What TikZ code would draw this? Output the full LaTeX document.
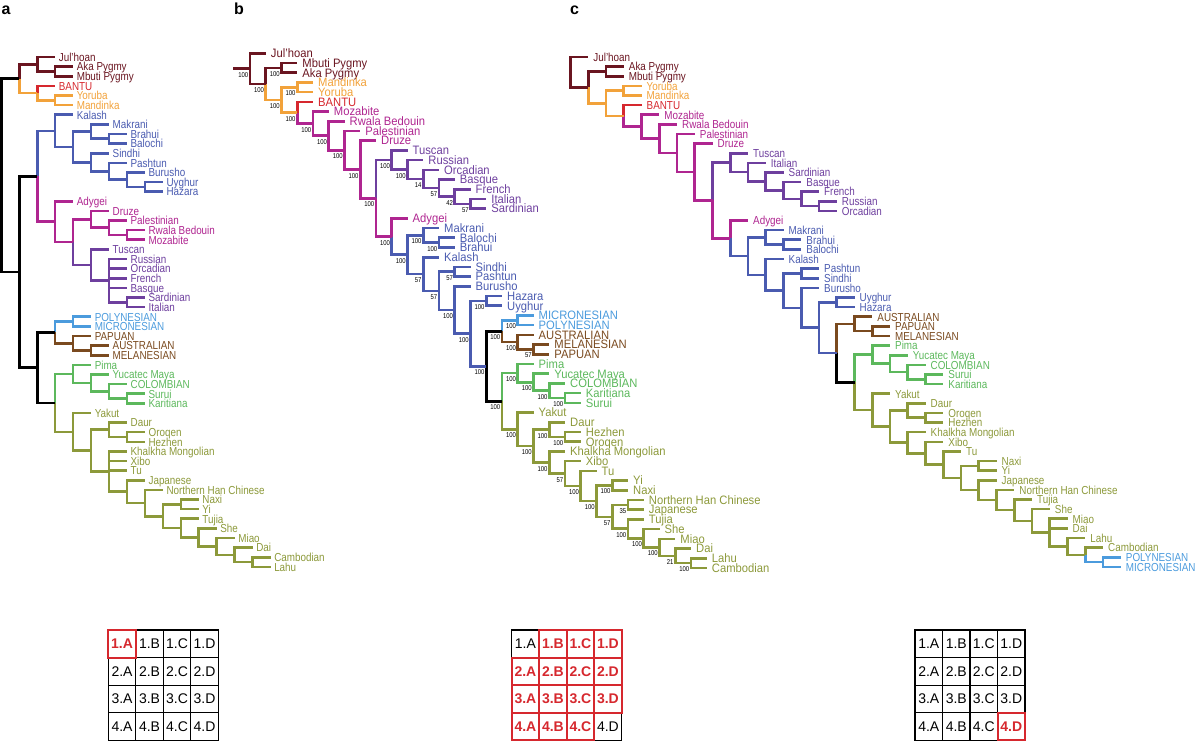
\documentclass[tikz,border=0pt]{standalone}
\usepackage{fontspec}
\setmainfont{Liberation Sans}
\newfontfamily\nfA[FakeStretch=0.85]{Liberation Sans}
\newfontfamily\nfB[FakeStretch=0.92]{Liberation Sans}
\newfontfamily\nfS[FakeStretch=0.85]{Liberation Sans}
\newcommand\fA{\nfA\fontsize{11.6}{12}\selectfont}
\newcommand\fB{\nfB\fontsize{12.2}{13}\selectfont}
\newcommand\fS{\nfS\fontsize{7}{7}\selectfont}
\definecolor{cDR}{HTML}{6A1520}
\definecolor{cRd}{HTML}{D6282E}
\definecolor{cOr}{HTML}{F2A23A}
\definecolor{cMg}{HTML}{AF2590}
\definecolor{cPu}{HTML}{6E3F9E}
\definecolor{cBl}{HTML}{4A5BB0}
\definecolor{cLb}{HTML}{4B9BDD}
\definecolor{cBr}{HTML}{7A4A1F}
\definecolor{cGr}{HTML}{5CB85C}
\definecolor{cOl}{HTML}{8C993A}
\tikzset{
 br/.style={line width=2.6pt},
 lab/.style={anchor=base west, inner sep=0pt, xshift=\LS, yshift=-4.3pt, font=\LF},
 bs/.style={anchor=north east, inner sep=0pt, xshift=-1.5pt, yshift=-3.5pt, font=\fS},
 cell/.style={draw=black, line width=1.1pt, minimum width=27.5pt, minimum height=27.6pt, inner sep=0pt, font=\fontsize{14}{14}\selectfont},
 rcell/.style={cell, draw=cRd, line width=2pt, text=cRd, font=\bfseries\fontsize{14}{14}\selectfont},
 panel/.style={anchor=base west, inner sep=0pt, font=\bfseries\fontsize{16}{16}\selectfont}
}
\newcommand\Yv[1]{\csname Y@#1\endcsname}
\newcommand\Lf[5]{%
  \pgfmathsetmacro\tY{\Yo+(#3-1)*\Ys}%
  \pgfmathsetmacro\tX{\Xo+#2*\Xs}%
  \expandafter\xdef\csname Y@#1\endcsname{\tY}%
  \coordinate (#1) at (\tX,\tY);%
  \node[lab,text=#4] (#1-t) at (#1) {#5};}
\newcommand\In[6]{%
  \edef\yA{\Yv{#3}}\edef\yB{\Yv{#5}}%
  \pgfmathsetmacro\tY{(\yA+\yB)/2}%
  \pgfmathsetmacro\tX{\Xo+#2*\Xs}%
  \expandafter\xdef\csname Y@#1\endcsname{\tY}%
  \coordinate (#1) at (\tX,\tY);%
  \draw[br,#4] (#1) |- (#3);%
  \draw[br,#6] (#1) |- (#5);}
\newcommand\Ip[4]{%
  \edef\yA{\Yv{#3}}\edef\yB{\Yv{#4}}%
  \pgfmathsetmacro\tY{(\yA+\yB)/2}%
  \pgfmathsetmacro\tX{\Xo+#2*\Xs}%
  \expandafter\xdef\csname Y@#1\endcsname{\tY}%
  \coordinate (#1) at (\tX,\tY);}
\newcommand\Bs[2]{\node[bs] (#1-b) at (#1) {#2};}
\newcommand\Red[1]{\expandafter\gdef\csname R@#1\endcsname{}}
\newcommand\Grid[3]{%
  \foreach \r in {1,...,4}{\foreach \cc/\ci in {A/1,B/2,C/3,D/4}{%
    \ifcsname R@#1\r\cc\endcsname\else
    \node[cell] (#1\r\cc) at ({#2+(\ci-0.5)*27.5},{#3+(\r-0.5)*27.6}) {\r.\cc};\fi}}%
  \foreach \r in {1,...,4}{\foreach \cc/\ci in {A/1,B/2,C/3,D/4}{%
    \ifcsname R@#1\r\cc\endcsname
    \node[rcell] (#1\r\cc) at ({#2+(\ci-0.5)*27.5},{#3+(\r-0.5)*27.6}) {\r.\cc};\fi}}}
\begin{document}
\begin{tikzpicture}[x=1pt,y=-1pt]
\useasboundingbox (0,0) rectangle (1200,742);
\node[panel] (pa) at (1.5,14) {a};
\node[panel] (pb) at (234,14) {b};
\node[panel] (pc) at (570,14) {c};
% ---------------- tree a
\def\Xo{1.3}\def\Xs{17.95}\def\Yo{57}\def\Ys{9.62}\def\LS{3.5pt}\let\LF\fA
\Lf{a1}{3}{1}{cDR}{Jul’hoan}
\Lf{a2}{4}{2}{cDR}{Aka Pygmy}
\Lf{a3}{4}{3}{cDR}{Mbuti Pygmy}
\Lf{a4}{3}{4}{cRd}{BANTU}
\Lf{a5}{4}{5}{cOr}{Yoruba}
\Lf{a6}{4}{6}{cOr}{Mandinka}
\In{aPy}{3}{a2}{cDR}{a3}{cDR}
\In{aDR}{2}{a1}{cDR}{aPy}{cDR}
\In{aYM}{3}{a5}{cOr}{a6}{cOr}
\In{aOR}{2}{a4}{cRd}{aYM}{cOr}
\In{aAf}{1}{aDR}{cDR}{aOR}{cOr}
\Lf{a7}{4}{7}{cBl}{Kalash}
\Lf{a8}{6}{8}{cBl}{Makrani}
\Lf{a9}{7}{9}{cBl}{Brahui}
\Lf{a10}{7}{10}{cBl}{Balochi}
\Lf{a11}{6}{11}{cBl}{Sindhi}
\Lf{a12}{7}{12}{cBl}{Pashtun}
\Lf{a13}{8}{13}{cBl}{Burusho}
\Lf{a14}{9}{14}{cBl}{Uyghur}
\Lf{a15}{9}{15}{cBl}{Hazara}
\In{aBB}{6}{a9}{cBl}{a10}{cBl}
\In{aM}{5}{a8}{cBl}{aBB}{cBl}
\In{aUH}{8}{a14}{cBl}{a15}{cBl}
\In{aS3}{7}{a13}{cBl}{aUH}{cBl}
\In{aS2}{6}{a12}{cBl}{aS3}{cBl}
\In{aS}{5}{a11}{cBl}{aS2}{cBl}
\In{aX}{4}{aM}{cBl}{aS}{cBl}
\In{aCSA}{3}{a7}{cBl}{aX}{cBl}
\Lf{a16}{4}{16}{cMg}{Adygei}
\Lf{a17}{6}{17}{cMg}{Druze}
\Lf{a18}{7}{18}{cMg}{Palestinian}
\Lf{a19}{8}{19}{cMg}{Rwala Bedouin}
\Lf{a20}{8}{20}{cMg}{Mozabite}
\Lf{a21}{6}{21}{cPu}{Tuscan}
\Lf{a22}{7}{22}{cPu}{Russian}
\Lf{a23}{7}{23}{cPu}{Orcadian}
\Lf{a24}{7}{24}{cPu}{French}
\Lf{a25}{7}{25}{cPu}{Basque}
\Lf{a26}{8}{26}{cPu}{Sardinian}
\Lf{a27}{8}{27}{cPu}{Italian}
\In{aRM}{7}{a19}{cMg}{a20}{cMg}
\In{aP}{6}{a18}{cMg}{aRM}{cMg}
\In{aD}{5}{a17}{cMg}{aP}{cMg}
\In{aSI}{7}{a26}{cPu}{a27}{cPu}
\Ip{aPol}{6}{a22}{aSI}
\foreach \cc in {a22,a23,a24,a25,aSI} \draw[br,cPu] (aPol) |- (\cc);
\In{aEu}{5}{a21}{cPu}{aPol}{cPu}
\In{aME2}{4}{aD}{cMg}{aEu}{cPu}
\In{aME}{3}{a16}{cMg}{aME2}{cMg}
\In{aW}{2}{aCSA}{cBl}{aME}{cMg}
\Lf{a28}{5}{28}{cLb}{POLYNESIAN}
\Lf{a29}{5}{29}{cLb}{MICRONESIAN}
\Lf{a30}{5}{30}{cBr}{PAPUAN}
\Lf{a31}{6}{31}{cBr}{AUSTRALIAN}
\Lf{a32}{6}{32}{cBr}{MELANESIAN}
\In{aPM}{4}{a28}{cLb}{a29}{cLb}
\In{aAM}{5}{a31}{cBr}{a32}{cBr}
\In{aPap}{4}{a30}{cBr}{aAM}{cBr}
\In{aOc}{3}{aPM}{cLb}{aPap}{cBr}
\Lf{a33}{5}{33}{cGr}{Pima}
\Lf{a34}{6}{34}{cGr}{Yucatec Maya}
\Lf{a35}{7}{35}{cGr}{COLOMBIAN}
\Lf{a36}{8}{36}{cGr}{Surui}
\Lf{a37}{8}{37}{cGr}{Karitiana}
\In{aKS}{7}{a36}{cGr}{a37}{cGr}
\In{aA3}{6}{a35}{cGr}{aKS}{cGr}
\In{aA2}{5}{a34}{cGr}{aA3}{cGr}
\In{aAm}{4}{a33}{cGr}{aA2}{cGr}
\Lf{a38}{5}{38}{cOl}{Yakut}
\Lf{a39}{7}{39}{cOl}{Daur}
\Lf{a40}{8}{40}{cOl}{Oroqen}
\Lf{a41}{8}{41}{cOl}{Hezhen}
\Lf{a42}{7}{42}{cOl}{Khalkha Mongolian}
\Lf{a43}{7}{43}{cOl}{Xibo}
\Lf{a44}{7}{44}{cOl}{Tu}
\Lf{a45}{8}{45}{cOl}{Japanese}
\Lf{a46}{9}{46}{cOl}{Northern Han Chinese}
\Lf{a47}{11}{47}{cOl}{Naxi}
\Lf{a48}{11}{48}{cOl}{Yi}
\Lf{a49}{11}{49}{cOl}{Tujia}
\Lf{a50}{12}{50}{cOl}{She}
\Lf{a51}{13}{51}{cOl}{Miao}
\Lf{a52}{14}{52}{cOl}{Dai}
\Lf{a53}{15}{53}{cOl}{Cambodian}
\Lf{a54}{15}{54}{cOl}{Lahu}
\In{aOH}{7}{a40}{cOl}{a41}{cOl}
\In{aN2}{6}{a39}{cOl}{aOH}{cOl}
\In{aN12}{14}{a53}{cOl}{a54}{cOl}
\In{aN11}{13}{a52}{cOl}{aN12}{cOl}
\In{aN10}{12}{a51}{cOl}{aN11}{cOl}
\In{aN9}{11}{a50}{cOl}{aN10}{cOl}
\In{aN8}{10}{a49}{cOl}{aN9}{cOl}
\In{aN7}{10}{a47}{cOl}{a48}{cOl}
\In{aN6}{9}{aN7}{cOl}{aN8}{cOl}
\In{aN5}{8}{a46}{cOl}{aN6}{cOl}
\In{aN4}{7}{a45}{cOl}{aN5}{cOl}
\Ip{aN3}{6}{a42}{aN4}
\foreach \cc in {a42,a43,a44,aN4} \draw[br,cOl] (aN3) |- (\cc);
\In{aN1}{5}{aN2}{cOl}{aN3}{cOl}
\In{aEA}{4}{a38}{cOl}{aN1}{cOl}
\In{aAE}{3}{aAm}{cGr}{aEA}{cOl}
\In{aE}{2}{aOc}{black}{aAE}{black}
\In{aNA}{1}{aW}{black}{aE}{black}
\In{aR}{0}{aAf}{black}{aNA}{black}
% ---------------- tree b
\def\Xo{250}\def\Xs{15.75}\def\Yo{53.3}\def\Ys{9.71}\def\LS{5pt}\let\LF\fB
\Lf{b1}{1}{1}{cDR}{Jul’hoan}
\Lf{b2}{3}{2}{cDR}{Mbuti Pygmy}
\Lf{b3}{3}{3}{cDR}{Aka Pygmy}
\Lf{b4}{4}{4}{cOr}{Mandinka}
\Lf{b5}{4}{5}{cOr}{Yoruba}
\Lf{b6}{4}{6}{cRd}{BANTU}
\Lf{b7}{5}{7}{cMg}{Mozabite}
\Lf{b8}{6}{8}{cMg}{Rwala Bedouin}
\Lf{b9}{7}{9}{cMg}{Palestinian}
\Lf{b10}{8}{10}{cMg}{Druze}
\Lf{b11}{10}{11}{cPu}{Tuscan}
\Lf{b12}{11}{12}{cPu}{Russian}
\Lf{b13}{12}{13}{cPu}{Orcadian}
\Lf{b14}{13}{14}{cPu}{Basque}
\Lf{b15}{14}{15}{cPu}{French}
\Lf{b16}{15}{16}{cPu}{Italian}
\Lf{b17}{15}{17}{cPu}{Sardinian}
\Lf{b18}{10}{18}{cMg}{Adygei}
\Lf{b19}{12}{19}{cBl}{Makrani}
\Lf{b20}{13}{20}{cBl}{Balochi}
\Lf{b21}{13}{21}{cBl}{Brahui}
\Lf{b22}{12}{22}{cBl}{Kalash}
\Lf{b23}{14}{23}{cBl}{Sindhi}
\Lf{b24}{14}{24}{cBl}{Pashtun}
\Lf{b25}{14}{25}{cBl}{Burusho}
\Lf{b26}{16}{26}{cBl}{Hazara}
\Lf{b27}{16}{27}{cBl}{Uyghur}
\Lf{b28}{18}{28}{cLb}{MICRONESIAN}
\Lf{b29}{18}{29}{cLb}{POLYNESIAN}
\Lf{b30}{18}{30}{cBr}{AUSTRALIAN}
\Lf{b31}{19}{31}{cBr}{MELANESIAN}
\Lf{b32}{19}{32}{cBr}{PAPUAN}
\Lf{b33}{18}{33}{cGr}{Pima}
\Lf{b34}{19}{34}{cGr}{Yucatec Maya}
\Lf{b35}{20}{35}{cGr}{COLOMBIAN}
\Lf{b36}{21}{36}{cGr}{Karitiana}
\Lf{b37}{21}{37}{cGr}{Surui}
\Lf{b38}{18}{38}{cOl}{Yakut}
\Lf{b39}{20}{39}{cOl}{Daur}
\Lf{b40}{21}{40}{cOl}{Hezhen}
\Lf{b41}{21}{41}{cOl}{Oroqen}
\Lf{b42}{20}{42}{cOl}{Khalkha Mongolian}
\Lf{b43}{21}{43}{cOl}{Xibo}
\Lf{b44}{22}{44}{cOl}{Tu}
\Lf{b45}{24}{45}{cOl}{Yi}
\Lf{b46}{24}{46}{cOl}{Naxi}
\Lf{b47}{25}{47}{cOl}{Northern Han Chinese}
\Lf{b48}{25}{48}{cOl}{Japanese}
\Lf{b49}{25}{49}{cOl}{Tujia}
\Lf{b50}{26}{50}{cOl}{She}
\Lf{b51}{27}{51}{cOl}{Miao}
\Lf{b52}{28}{52}{cOl}{Dai}
\Lf{b53}{29}{53}{cOl}{Lahu}
\Lf{b54}{29}{54}{cOl}{Cambodian}
\In{bPy}{2}{b2}{cDR}{b3}{cDR}
\In{bYM}{3}{b4}{cOr}{b5}{cOr}
\In{bIS}{14}{b16}{cPu}{b17}{cPu}
\In{bR4}{13}{b15}{cPu}{bIS}{cPu}
\In{bR3}{12}{b14}{cPu}{bR4}{cPu}
\In{bR2}{11}{b13}{cPu}{bR3}{cPu}
\In{bR1}{10}{b12}{cPu}{bR2}{cPu}
\In{bEu}{9}{b11}{cPu}{bR1}{cPu}
\In{bBB}{12}{b20}{cBl}{b21}{cBl}
\In{bMB}{11}{b19}{cBl}{bBB}{cBl}
\In{bSP}{13}{b23}{cBl}{b24}{cBl}
\In{bHU}{15}{b26}{cBl}{b27}{cBl}
\In{bMP}{17}{b28}{cLb}{b29}{cLb}
\In{bMP2}{18}{b31}{cBr}{b32}{cBr}
\In{bAMP}{17}{b30}{cBr}{bMP2}{cBr}
\In{bOc}{16}{bMP}{cLb}{bAMP}{cBr}
\In{bKS}{20}{b36}{cGr}{b37}{cGr}
\In{bAm3}{19}{b35}{cGr}{bKS}{cGr}
\In{bAm2}{18}{b34}{cGr}{bAm3}{cGr}
\In{bAm}{17}{b33}{cGr}{bAm2}{cGr}
\In{bHO}{20}{b40}{cOl}{b41}{cOl}
\In{bDHO}{19}{b39}{cOl}{bHO}{cOl}
\In{bLC}{28}{b53}{cOl}{b54}{cOl}
\In{bEA11}{27}{b52}{cOl}{bLC}{cOl}
\In{bEA10}{26}{b51}{cOl}{bEA11}{cOl}
\In{bEA9}{25}{b50}{cOl}{bEA10}{cOl}
\In{bEA8}{24}{b49}{cOl}{bEA9}{cOl}
\In{bNJ}{24}{b47}{cOl}{b48}{cOl}
\In{bEA7}{23}{bNJ}{cOl}{bEA8}{cOl}
\In{bYN}{23}{b45}{cOl}{b46}{cOl}
\In{bEA6}{22}{bYN}{cOl}{bEA7}{cOl}
\In{bEA5}{21}{b44}{cOl}{bEA6}{cOl}
\In{bEA4}{20}{b43}{cOl}{bEA5}{cOl}
\In{bEA3}{19}{b42}{cOl}{bEA4}{cOl}
\In{bEA2}{18}{bDHO}{cOl}{bEA3}{cOl}
\In{bEA}{17}{b38}{cOl}{bEA2}{cOl}
\In{bAE}{16}{bAm}{cGr}{bEA}{cOl}
\In{bB15}{15}{bOc}{black}{bAE}{black}
\In{bB14}{14}{bHU}{cBl}{bB15}{cBl}
\In{bB13}{13}{b25}{cBl}{bB14}{cBl}
\In{bB12}{12}{bSP}{cBl}{bB13}{cBl}
\In{bB11}{11}{b22}{cBl}{bB12}{cBl}
\In{bB10}{10}{bMB}{cBl}{bB11}{cBl}
\In{bB9}{9}{b18}{cMg}{bB10}{cBl}
\In{bB8}{8}{bEu}{cPu}{bB9}{cMg}
\In{bB7}{7}{b10}{cMg}{bB8}{cMg}
\In{bB6}{6}{b9}{cMg}{bB7}{cMg}
\In{bB5}{5}{b8}{cMg}{bB6}{cMg}
\In{bB4}{4}{b7}{cMg}{bB5}{cMg}
\In{bB3}{3}{b6}{cRd}{bB4}{cMg}
\In{bB2}{2}{bYM}{cOr}{bB3}{cOr}
\In{bB1}{1}{bPy}{cDR}{bB2}{cOr}
\In{bR}{0}{b1}{cDR}{bB1}{cDR}
\coordinate (bS) at ([xshift=-16.7pt]bR);
\draw[br,cDR] (bS) -- (bR);
\foreach \nn/\vv in {bR/100,bPy/100,bB1/100,bYM/100,bB2/100,bB3/100,bB4/100,bB5/100,bB6/100,bB7/100,bB8/100,
  bEu/100,bR1/100,bR2/14,bR3/57,bR4/42,bIS/57,bB9/100,bB10/100,bMB/100,bBB/100,bB11/57,bSP/57,bB12/57,
  bB13/100,bHU/100,bB14/100,bB15/100,bOc/100,bMP/100,bAMP/100,bMP2/57,bAE/100,bAm/100,bAm2/100,bAm3/100,
  bKS/100,bEA/100,bEA2/100,bDHO/100,bHO/100,bEA3/100,bEA4/57,bEA5/100,bYN/100,bEA6/100,bNJ/35,bEA7/57,
  bEA8/100,bEA9/100,bEA10/100,bEA11/21,bLC/100} {\Bs{\nn}{\vv}}
% ---------------- tree c
\def\Xo{570.5}\def\Xs{17.75}\def\Yo{57}\def\Ys{9.62}\def\LS{5pt}\let\LF\fA
\Lf{c1}{1}{1}{cDR}{Jul’hoan}
\Lf{c2}{3}{2}{cDR}{Aka Pygmy}
\Lf{c3}{3}{3}{cDR}{Mbuti Pygmy}
\Lf{c4}{4}{4}{cOr}{Yoruba}
\Lf{c5}{4}{5}{cOr}{Mandinka}
\Lf{c6}{4}{6}{cRd}{BANTU}
\Lf{c7}{5}{7}{cMg}{Mozabite}
\Lf{c8}{6}{8}{cMg}{Rwala Bedouin}
\Lf{c9}{7}{9}{cMg}{Palestinian}
\Lf{c10}{8}{10}{cMg}{Druze}
\Lf{c11}{10}{11}{cPu}{Tuscan}
\Lf{c12}{11}{12}{cPu}{Italian}
\Lf{c13}{12}{13}{cPu}{Sardinian}
\Lf{c14}{13}{14}{cPu}{Basque}
\Lf{c15}{14}{15}{cPu}{French}
\Lf{c16}{15}{16}{cPu}{Russian}
\Lf{c17}{15}{17}{cPu}{Orcadian}
\Lf{c18}{10}{18}{cMg}{Adygei}
\Lf{c19}{12}{19}{cBl}{Makrani}
\Lf{c20}{13}{20}{cBl}{Brahui}
\Lf{c21}{13}{21}{cBl}{Balochi}
\Lf{c22}{12}{22}{cBl}{Kalash}
\Lf{c23}{14}{23}{cBl}{Pashtun}
\Lf{c24}{14}{24}{cBl}{Sindhi}
\Lf{c25}{14}{25}{cBl}{Burusho}
\Lf{c26}{16}{26}{cBl}{Uyghur}
\Lf{c27}{16}{27}{cBl}{Hazara}
\Lf{c28}{17}{28}{cBr}{AUSTRALIAN}
\Lf{c29}{18}{29}{cBr}{PAPUAN}
\Lf{c30}{18}{30}{cBr}{MELANESIAN}
\Lf{c31}{18}{31}{cGr}{Pima}
\Lf{c32}{19}{32}{cGr}{Yucatec Maya}
\Lf{c33}{20}{33}{cGr}{COLOMBIAN}
\Lf{c34}{21}{34}{cGr}{Surui}
\Lf{c35}{21}{35}{cGr}{Karitiana}
\Lf{c36}{18}{36}{cOl}{Yakut}
\Lf{c37}{20}{37}{cOl}{Daur}
\Lf{c38}{21}{38}{cOl}{Oroqen}
\Lf{c39}{21}{39}{cOl}{Hezhen}
\Lf{c40}{20}{40}{cOl}{Khalkha Mongolian}
\Lf{c41}{21}{41}{cOl}{Xibo}
\Lf{c42}{22}{42}{cOl}{Tu}
\Lf{c43}{24}{43}{cOl}{Naxi}
\Lf{c44}{24}{44}{cOl}{Yi}
\Lf{c45}{24}{45}{cOl}{Japanese}
\Lf{c46}{25}{46}{cOl}{Northern Han Chinese}
\Lf{c47}{26}{47}{cOl}{Tujia}
\Lf{c48}{27}{48}{cOl}{She}
\Lf{c49}{28}{49}{cOl}{Miao}
\Lf{c50}{28}{50}{cOl}{Dai}
\Lf{c51}{29}{51}{cOl}{Lahu}
\Lf{c52}{30}{52}{cOl}{Cambodian}
\Lf{c53}{31}{53}{cLb}{POLYNESIAN}
\Lf{c54}{31}{54}{cLb}{MICRONESIAN}
\In{cPy}{2}{c2}{cDR}{c3}{cDR}
\In{cYM}{3}{c4}{cOr}{c5}{cOr}
\In{cRO}{14}{c16}{cPu}{c17}{cPu}
\In{cE4}{13}{c15}{cPu}{cRO}{cPu}
\In{cE3}{12}{c14}{cPu}{cE4}{cPu}
\In{cE2}{11}{c13}{cPu}{cE3}{cPu}
\In{cE1}{10}{c12}{cPu}{cE2}{cPu}
\In{cEu}{9}{c11}{cPu}{cE1}{cPu}
\In{cBB}{12}{c20}{cBl}{c21}{cBl}
\In{cMB}{11}{c19}{cBl}{cBB}{cBl}
\In{cPS}{13}{c23}{cBl}{c24}{cBl}
\In{cUH}{15}{c26}{cBl}{c27}{cBl}
\In{cPM2}{17}{c29}{cBr}{c30}{cBr}
\In{cOc}{16}{c28}{cBr}{cPM2}{cBr}
\In{cKS}{20}{c34}{cGr}{c35}{cGr}
\In{cAm3}{19}{c33}{cGr}{cKS}{cGr}
\In{cAm2}{18}{c32}{cGr}{cAm3}{cGr}
\In{cAm}{17}{c31}{cGr}{cAm2}{cGr}
\In{cOH}{20}{c38}{cOl}{c39}{cOl}
\In{cDOH}{19}{c37}{cOl}{cOH}{cOl}
\In{cPM}{30}{c53}{cLb}{c54}{cLb}
\In{cEA13}{29}{c52}{cOl}{cPM}{cLb}
\In{cEA12}{28}{c51}{cOl}{cEA13}{cOl}
\Ip{cEA11}{27}{c49}{cEA12}
\foreach \cc in {c49,c50,cEA12} \draw[br,cOl] (cEA11) |- (\cc);
\In{cEA10}{26}{c48}{cOl}{cEA11}{cOl}
\In{cEA9}{25}{c47}{cOl}{cEA10}{cOl}
\In{cEA8}{24}{c46}{cOl}{cEA9}{cOl}
\In{cEA7}{23}{c45}{cOl}{cEA8}{cOl}
\In{cNY}{23}{c43}{cOl}{c44}{cOl}
\In{cEA6}{22}{cNY}{cOl}{cEA7}{cOl}
\In{cEA5}{21}{c42}{cOl}{cEA6}{cOl}
\In{cEA4}{20}{c41}{cOl}{cEA5}{cOl}
\In{cEA3}{19}{c40}{cOl}{cEA4}{cOl}
\In{cEA2}{18}{cDOH}{cOl}{cEA3}{cOl}
\In{cEA}{17}{c36}{cOl}{cEA2}{cOl}
\In{cAE}{16}{cAm}{cGr}{cEA}{cOl}
\In{cC15}{15}{cOc}{cBr}{cAE}{black}
\In{cC14}{14}{cUH}{cBl}{cC15}{cBl}
\In{cC13}{13}{c25}{cBl}{cC14}{cBl}
\In{cC12}{12}{cPS}{cBl}{cC13}{cBl}
\In{cC11}{11}{c22}{cBl}{cC12}{cBl}
\In{cC10}{10}{cMB}{cBl}{cC11}{cBl}
\In{cC9}{9}{c18}{cMg}{cC10}{cBl}
\In{cC8}{8}{cEu}{cPu}{cC9}{cMg}
\In{cC7}{7}{c10}{cMg}{cC8}{cMg}
\In{cC6}{6}{c9}{cMg}{cC7}{cMg}
\In{cC5}{5}{c8}{cMg}{cC6}{cMg}
\In{cC4}{4}{c7}{cMg}{cC5}{cMg}
\In{cC3}{3}{c6}{cRd}{cC4}{cMg}
\In{cC2}{2}{cYM}{cOr}{cC3}{cOr}
\In{cC1}{1}{cPy}{cDR}{cC2}{cOr}
\In{cR}{0}{c1}{cDR}{cC1}{cDR}
% ---------------- grids
\Red{ga1A}
\foreach \x in {1B,1C,1D,2A,2B,2C,2D,3A,3B,3C,3D,4A,4B,4C} {\Red{gb\x}}
\Red{gc4D}
\Grid{ga}{108.3}{630}
\Grid{gb}{511.7}{630}
\Grid{gc}{915}{630}
\end{tikzpicture}
\end{document}
